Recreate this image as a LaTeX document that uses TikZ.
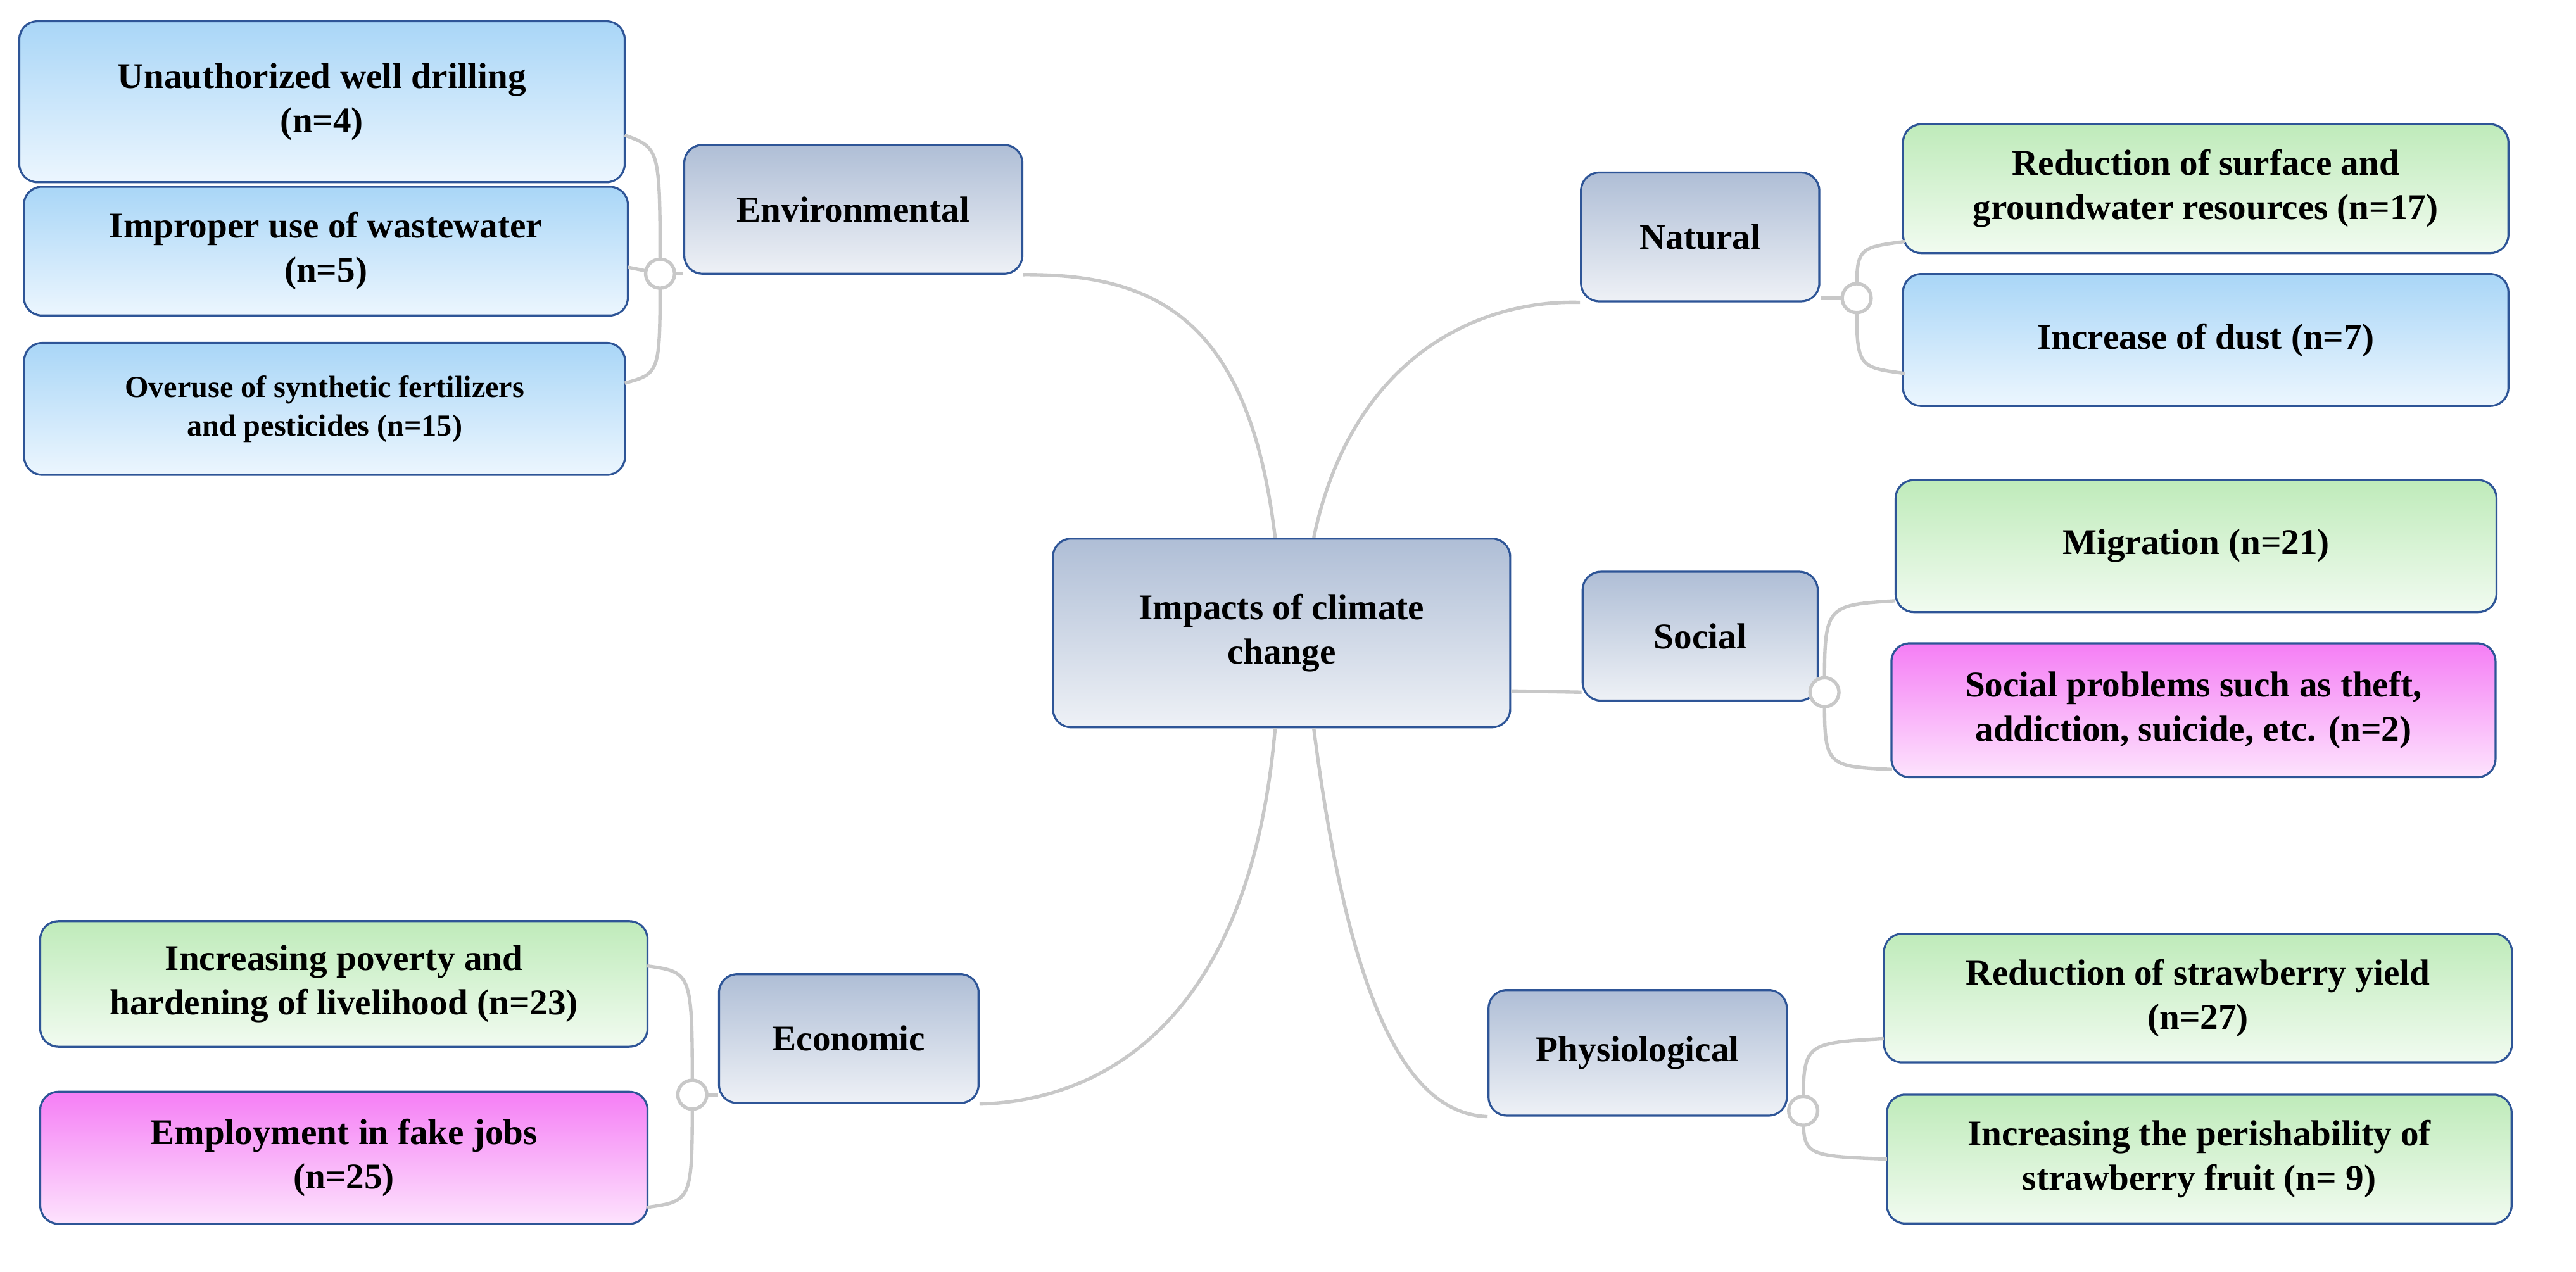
\documentclass[tikz,border=0pt]{standalone}
\usepackage{fontspec}
\setmainfont{Liberation Serif}
\begin{document}
\begin{tikzpicture}
\definecolor{bd}{HTML}{2E5597}
\definecolor{ln}{HTML}{C8C8C8}
\definecolor{catT}{HTML}{AFBED6}
\definecolor{catB}{HTML}{EEF1F6}
\definecolor{bluT}{HTML}{A9D6F7}
\definecolor{bluB}{HTML}{ECF6FE}
\definecolor{grnT}{HTML}{BFEBBA}
\definecolor{grnB}{HTML}{F1FBF0}
\definecolor{pnkT}{HTML}{F57EF5}
\definecolor{pnkB}{HTML}{FDE3FD}
\tikzset{
 box/.style={draw=bd, line width=0.9pt, rounded corners=8pt, align=center, font=\fontsize{16}{19.5}\selectfont\bfseries, inner sep=2pt},
 cat/.style={box, top color=catT, bottom color=catB},
 blueb/.style={box, top color=bluT, bottom color=bluB},
 greenb/.style={box, top color=grnT, bottom color=grnB},
 pinkb/.style={box, top color=pnkT, bottom color=pnkB},
 con/.style={draw=ln, line width=1.5pt},
 hub/.style={circle, draw=ln, line width=1.5pt, fill=white, minimum size=0.45cm, inner sep=0pt}
}
\useasboundingbox (0,0) rectangle (40,-19.75);
% nodes
\node[cat, minimum width=7.1cm, minimum height=2.93cm] (c) at (19.9,-9.83) {Impacts of climate\\change};
\node[cat, minimum width=5.25cm, minimum height=2cm] (env) at (13.25,-3.25) {Environmental};
\node[cat, minimum width=3.7cm, minimum height=2cm] (nat) at (26.4,-3.68) {Natural};
\node[cat, minimum width=3.65cm, minimum height=2cm] (soc) at (26.4,-9.88) {Social};
\node[cat, minimum width=4.03cm, minimum height=2cm] (eco) at (13.18,-16.13) {Economic};
\node[cat, minimum width=4.63cm, minimum height=1.95cm] (phy) at (25.43,-16.35) {Physiological};
\node[blueb, minimum width=9.4cm, minimum height=2.5cm] (l1) at (5.0,-1.58) {Unauthorized well drilling\\(n=4)};
\node[blueb, minimum width=9.38cm, minimum height=2cm] (l2) at (5.06,-3.9) {Improper use of wastewater\\(n=5)};
\node[blueb, minimum width=9.33cm, minimum height=2.05cm, font=\fontsize{13.5}{17}\selectfont\bfseries] (l3) at (5.04,-6.35) {Overuse of synthetic fertilizers\\and pesticides (n=15)};
\node[greenb, minimum width=9.4cm, minimum height=2cm] (n1) at (34.25,-2.93) {Reduction of surface and\\groundwater resources (n=17)};
\node[blueb, minimum width=9.4cm, minimum height=2.05cm] (n2) at (34.25,-5.28) {Increase of dust (n=7)};
\node[greenb, minimum width=9.33cm, minimum height=2.05cm] (s1) at (34.1,-8.48) {Migration (n=21)};
\node[pinkb, minimum width=9.38cm, minimum height=2.08cm] (s2) at (34.06,-11.03) {Social problems such as theft,\\addiction, suicide, etc. (n=2)};
\node[greenb, minimum width=9.43cm, minimum height=1.95cm] (e1) at (5.34,-15.28) {Increasing poverty and\\hardening of livelihood (n=23)};
\node[pinkb, minimum width=9.43cm, minimum height=2.05cm] (e2) at (5.34,-17.98) {Employment in fake jobs\\(n=25)};
\node[greenb, minimum width=9.75cm, minimum height=2cm] (p1) at (34.13,-15.5) {Reduction of strawberry yield\\(n=27)};
\node[greenb, minimum width=9.7cm, minimum height=2cm] (p2) at (34.15,-18.0) {Increasing the perishability of\\strawberry fruit (n= 9)};
% main connectors
\draw[con] ([xshift=-0.1cm]c.north) .. controls (19.4,-5) and (18,-4.25) .. (env.south east);
\draw[con] ([xshift=0.5cm]c.north) .. controls (21,-5.5) and (23,-4.65) .. (nat.south west);
\draw[con] ([xshift=-0.1cm]c.south) .. controls (19.4,-16) and (17,-17.1) .. (eco.south east);
\draw[con] ([xshift=0.5cm]c.south) .. controls (21,-16) and (22,-17.3) .. (phy.south west);
\draw[con] ([yshift=-0.9cm]c.east) -- ([yshift=-0.87cm]soc.west);
% hubs
\coordinate (he) at (10.25,-4.25);
\draw[con] (he) -- (env.west |- he);
\draw[con] (he) .. controls (10.25,-2.3) .. (9.7,-2.1);
\draw[con] (he) -- (9.75,-4.15);
\draw[con] (he) .. controls (10.25,-5.8) .. (9.7,-5.95);
\node[hub] (hE) at (he) {};
\coordinate (hn) at (28.83,-4.63);
\draw[con] (hn) -- (nat.east |- hn);
\draw[con] (hn) .. controls (28.83,-3.85) .. (29.58,-3.75);
\draw[con] (hn) .. controls (28.83,-5.7) .. (29.58,-5.8);
\node[hub] (hN) at (hn) {};
\coordinate (hs) at (28.33,-10.75);
\draw[con] (hs) -- (soc.east |- hs);
\draw[con] (hs) .. controls (28.33,-9.4) .. (29.43,-9.33);
\draw[con] (hs) .. controls (28.33,-11.9) .. (29.38,-11.95);
\node[hub] (hS) at (hs) {};
\coordinate (hc) at (10.75,-17.0);
\draw[con] (hc) -- (eco.west |- hc);
\draw[con] (hc) .. controls (10.75,-15.1) .. (10.05,-15.0);
\draw[con] (hc) .. controls (10.75,-18.65) .. (10.05,-18.75);
\node[hub] (hC) at (hc) {};
\coordinate (hp) at (28.0,-17.25);
\draw[con] (hp) -- (phy.east |- hp);
\draw[con] (hp) .. controls (28.0,-16.2) .. (29.25,-16.13);
\draw[con] (hp) .. controls (28.0,-17.95) .. (29.3,-18.0);
\node[hub] (hP) at (hp) {};
\end{tikzpicture}
\end{document}
